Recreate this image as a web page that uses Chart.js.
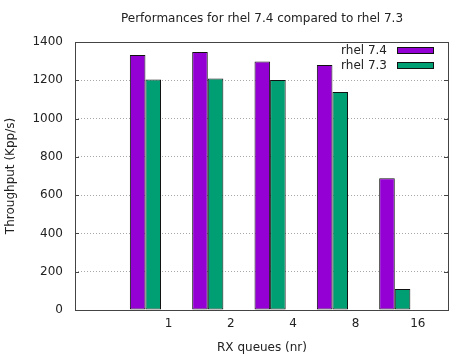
<!DOCTYPE html>
<html>
<head>
<meta charset="utf-8">
<script src="https://cdn.jsdelivr.net/npm/chart.js@4/dist/chart.umd.min.js"></script>
<style>
html,body{margin:0;padding:0;background:#fff;}
#wrap{width:474px;height:355px;}
</style>
</head>
<body>
<div id="wrap"><canvas id="c" width="474" height="355"></canvas></div>
<script>
const categories = ['1', '2', '4', '8', '16'];
const rhel74 = [1332, 1348, 1298, 1280, 688];
const rhel73 = [1204, 1209, 1201, 1139, 110];
const yTicks = [0, 200, 400, 600, 800, 1000, 1200, 1400];
const seriesNames = ['rhel 7.4', 'rhel 7.3'];
const seriesColors = ['#9400d3', '#009e73'];
const chartTitle = 'Performances for rhel 7.4 compared to rhel 7.3';

const groupShift = -0.37;
const FONT = "'DejaVu Sans', sans-serif";
const TXT = '#222';

function pts(vals){ return vals.map((v,i)=>({x: i + 1 + groupShift, y: v})); }

const framePlugin = {
  id: 'frame',
  afterDatasetsDraw(chart){
    const {ctx, chartArea: a} = chart;
    const ys = chart.scales.y;
    ctx.save();
    ctx.strokeStyle = '#444';
    ctx.lineWidth = 1;
    ctx.strokeRect(Math.round(a.left)+0.5, Math.round(a.top)+0.5, Math.round(a.right-a.left)-1, Math.round(a.bottom-a.top));
    yTicks.forEach(t=>{
      const py = Math.round(ys.getPixelForValue(t))+0.5;
      ctx.beginPath();
      ctx.moveTo(a.left, py); ctx.lineTo(a.left+4, py);
      ctx.moveTo(a.right-1, py); ctx.lineTo(a.right-5, py);
      ctx.stroke();
    });
    // title
    ctx.font = '12px ' + FONT;
    ctx.fillStyle = TXT;
    ctx.textAlign = 'center';
    ctx.textBaseline = 'middle';
    ctx.fillText(chartTitle, (a.left + a.right)/2, 19);
    // legend
    ctx.textAlign = 'right';
    chart.data.datasets.forEach((ds, k)=>{
      const cy = 51 + k*15;
      ctx.fillStyle = TXT;
      ctx.fillText(ds.label, 387, cy);
      ctx.fillStyle = ds.backgroundColor;
      ctx.fillRect(397.5, cy-3.5, 36, 6);
      ctx.strokeStyle = '#111';
      ctx.strokeRect(397.5, cy-3.5, 36, 6);
    });
    ctx.restore();
  }
};

new Chart(document.getElementById('c'), {
  type: 'bar',
  data: {
    datasets: [
      {label: seriesNames[0], data: pts(rhel74), backgroundColor: seriesColors[0], borderColor: '#111', borderWidth: 1, borderSkipped: false},
      {label: seriesNames[1], data: pts(rhel73), backgroundColor: seriesColors[1], borderColor: '#111', borderWidth: 1, borderSkipped: false}
    ]
  },
  options: {
    responsive: false,
    animation: false,
    devicePixelRatio: 1,
    layout: {padding: {left: 0, right: 25, top: 42, bottom: 0}},
    datasets: {bar: {categoryPercentage: 0.5, barPercentage: 1.0}},
    plugins: {
      legend: {display: false},
      tooltip: {enabled: false},
      title: {display: false}
    },
    scales: {
      x: {
        type: 'linear',
        offset: false,
        min: -0.5, max: 5.5,
        afterBuildTicks(s){ s.ticks = categories.map((c,i)=>({value: i+1})); },
        afterFit(s){ s.height = 45; },
        grid: {display: false, drawTicks: false},
        border: {display: false},
        ticks: {
          color: TXT, font: {family: FONT, size: 12}, padding: 7,
          callback(v){ return categories[v-1] ?? ''; },
          maxRotation: 0, autoSkip: false
        },
        title: {display: true, text: 'RX queues (nr)', color: TXT, font: {family: FONT, size: 12}, padding: {top: 3, bottom: 0}}
      },
      y: {
        min: 0, max: 1400,
        afterBuildTicks(s){ s.ticks = yTicks.map(v=>({value: v})); },
        afterFit(s){ s.width = 75; },
        grid: {color: '#a8a8a8', drawTicks: false, lineWidth: 1},
        border: {display: false, dash: [1,2]},
        ticks: {color: TXT, font: {family: FONT, size: 12}, padding: 12, callback(v){ return String(v); }},
        title: {display: true, text: 'Throughput (Kpp/s)', color: TXT, font: {family: FONT, size: 12}, padding: {top: 4, bottom: 0}}
      }
    }
  },
  plugins: [framePlugin]
});
</script>
</body>
</html>
